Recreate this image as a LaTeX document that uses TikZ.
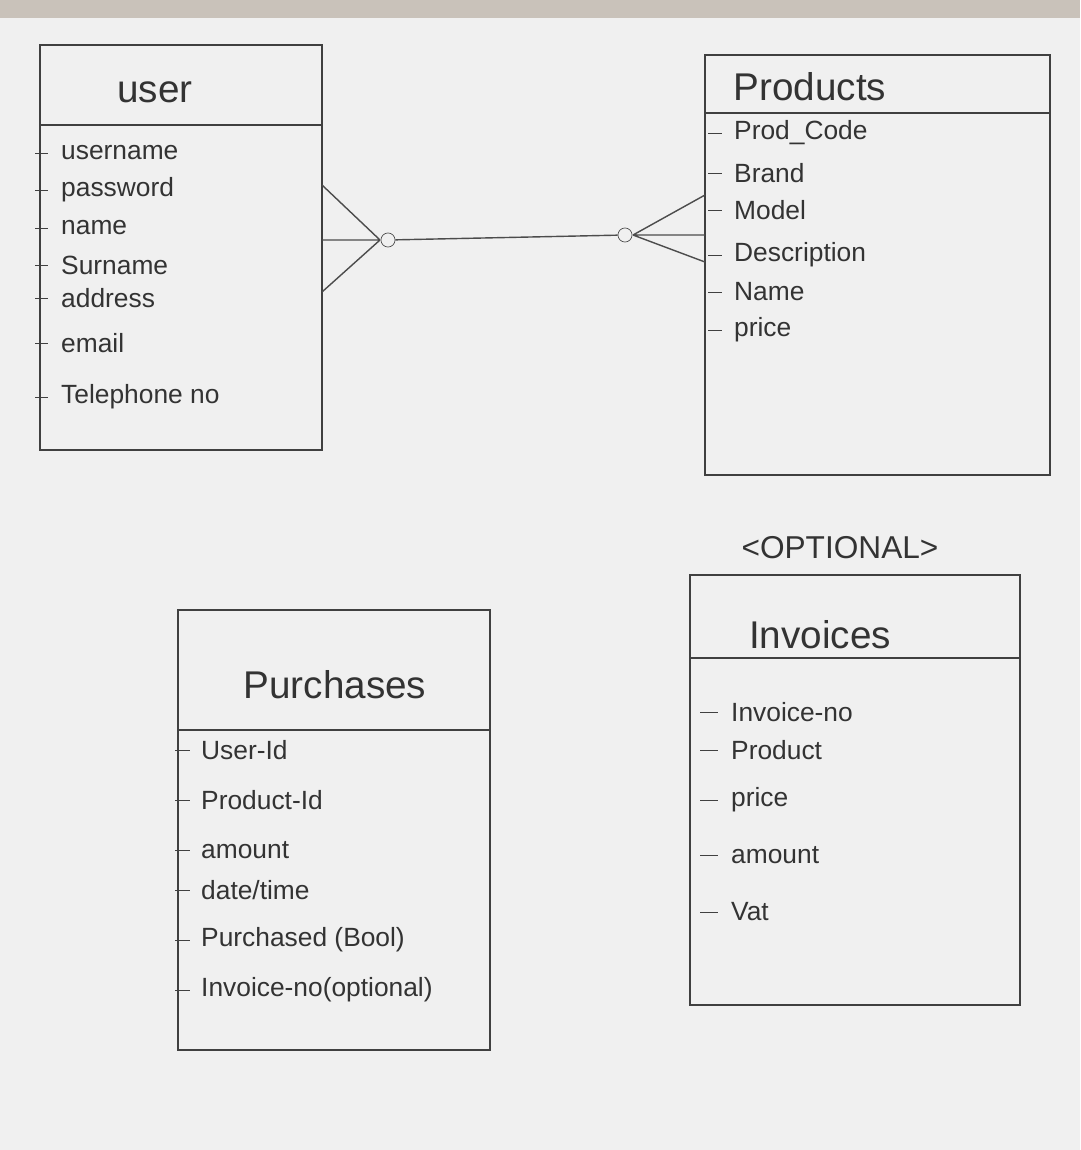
\documentclass[tikz,border=0pt]{standalone}
\usepackage{fontspec}
\setmainfont{Liberation Sans}
\begin{document}
\begin{tikzpicture}[x=0.02cm,y=-0.02cm,
  ent/.style={draw=black!75,line width=0.9pt},
  hdr/.style={font=\fontsize{22}{24}\selectfont,text=black!80},
  attr/.style={anchor=west,font=\fontsize{15}{17}\selectfont,text=black!80},
  rel/.style={draw=black!70,line width=0.8pt}]
\fill[black!6] (0,0) rectangle (1080,1150);
\fill[brown!40!black!30] (0,0) rectangle (1080,18);
% User
\draw[ent] (40,45) rectangle (322,450); \draw[ent] (40,125) -- (322,125);
\node[hdr] (uh) at (155,92) {user};
\foreach \t/\y in {username/153,password/190,name/228,Surname/265,address/298,email/343,Telephone no/397}
  {\draw[black!75] (35,\y) -- (48,\y); \node[attr] at (55,\y) {\t};}
% Products
\draw[ent] (705,55) rectangle (1050,475); \draw[ent] (705,113) -- (1050,113);
\node[hdr] (ph) at (810,87) {Products};
\foreach \t/\y in {Prod\_Code/133,Brand/173,Model/210,Description/255,Name/292,price/330}
  {\draw[black!75] (708,\y) -- (722,\y); \node[attr] at (728,\y) {\t};}
% Purchases
\draw[ent] (178,610) rectangle (490,1050); \draw[ent] (178,730) -- (490,730);
\node[hdr] (puh) at (335,685) {Purchases};
\foreach \t/\y in {User-Id/750,Product-Id/800,amount/850,{date/time}/890,Purchased (Bool)/940,Invoice-no(optional)/990}
  {\draw[black!75] (175,\y) -- (190,\y); \node[attr] at (195,\y) {\t};}
% Invoices
\draw[ent] (690,575) rectangle (1020,1005); \draw[ent] (690,658) -- (1020,658);
\node[hdr] (ih) at (820,635) {Invoices};
\node[font=\fontsize{18}{20}\selectfont,text=black!80] (opt) at (840,548) {<OPTIONAL>};
\foreach \t/\y in {Invoice-no/712,Product/750,price/800,amount/855,Vat/912}
  {\draw[black!75] (700,\y) -- (718,\y); \node[attr] at (725,\y) {\t};}
% relationship
\coordinate (ua) at (322,185); \coordinate (ub) at (322,240); \coordinate (uc) at (322,292);
\coordinate (uj) at (380,240);
\node[draw=black!70,circle,inner sep=0pt,minimum size=8pt] (c1) at (388,240) {};
\node[draw=black!70,circle,inner sep=0pt,minimum size=8pt] (c2) at (625,235) {};
\coordinate (pj) at (633,235);
\coordinate (pa) at (705,195); \coordinate (pb) at (705,235); \coordinate (pc) at (705,262);
\draw[rel] (ua) -- (uj) (ub) -- (uj) (uc) -- (uj);
\draw[rel] (c1) -- (c2);
\draw[rel] (pa) -- (pj) (pb) -- (pj) (pc) -- (pj);
\end{tikzpicture}
\end{document}
